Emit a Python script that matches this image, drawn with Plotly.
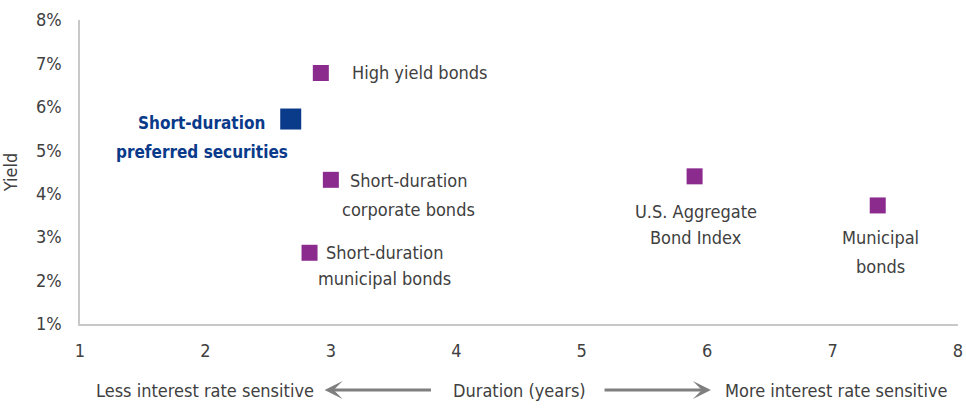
import plotly.graph_objects as go

# ---- data ----
names = ["High yield bonds", "Short-duration<br>preferred securities", "Short-duration<br>corporate bonds",
         "Short-duration<br>municipal bonds", "U.S. Aggregate<br>Bond Index", "Municipal<br>bonds"]
duration = [2.92, 2.68, 3.0, 2.83, 5.9, 7.36]
yield_pct = [6.78, 5.72, 4.32, 2.64, 4.40, 3.73]
highlight = [False, True, False, False, False, False]
y_ticks = [1, 2, 3, 4, 5, 6, 7, 8]
x_ticks = [1, 2, 3, 4, 5, 6, 7, 8]
bottom_text = ["Less interest rate sensitive", "Duration (years)", "More interest rate sensitive"]
bottom_x = [2.0, 4.5, 7.03]
arrows = [(3.81, 2.95), (5.17, 6.03)]

# label placement: (dx px, dy px of first line (down positive), line gap px, anchor)
label_pos = [(29, 0, 0, "left"), (-89, 4, 29, "center"), (78, 0.5, 29, "center"),
             (75, 0, 26, "center"), (1, 35.5, 26, "center"), (3, 32.5, 29, "center")]

FONT = "DejaVu Sans Condensed, DejaVu Sans, sans-serif"
FS = 18
GREY = "#404040"
PURPLE = "#8a2b8d"
NAVY = "#0a3a8a"

fig = go.Figure()
px_ = [d for d, h in zip(duration, highlight) if not h]
py_ = [v for v, h in zip(yield_pct, highlight) if not h]
fig.add_trace(go.Scatter(x=px_, y=py_, mode="markers",
                         marker=dict(symbol="square", size=16, color=PURPLE), hoverinfo="skip"))
hx = [d for d, h in zip(duration, highlight) if h]
hy = [v for v, h in zip(yield_pct, highlight) if h]
fig.add_trace(go.Scatter(x=hx, y=hy, mode="markers",
                         marker=dict(symbol="square", size=21, color=NAVY), hoverinfo="skip"))

for n, d, v, h, (dx, dy, gap, anc) in zip(names, duration, yield_pct, highlight, label_pos):
    for k, line in enumerate(n.split("<br>")):
        fig.add_annotation(x=d, y=v, xref="x", yref="y", text=("<b>%s</b>" % line) if h else line,
                           showarrow=False, xanchor=anc, yanchor="middle", align="center",
                           xshift=dx, yshift=-(dy + k * gap),
                           font=dict(family=FONT, size=17 if h else FS, color=NAVY if h else GREY))

# bottom row
for t, xx in zip(bottom_text, bottom_x):
    fig.add_annotation(x=xx, y=0, xref="x", yref="paper", yshift=-66, text=t, showarrow=False,
                       xanchor="center", yanchor="middle", font=dict(family=FONT, size=FS, color=GREY))
for tail, head in arrows:
    fig.add_annotation(x=head, y=0, xref="x", yref="paper", yshift=-66, ax=tail, ay=0,
                       axref="x", ayref="pixel", text="", showarrow=True,
                       arrowhead=3, arrowsize=1, arrowwidth=3, arrowcolor="#7f7f7f")

fig.update_layout(
    width=966, height=414, margin=dict(l=80, r=8, t=20, b=90),
    paper_bgcolor="white", plot_bgcolor="white", showlegend=False,
    font=dict(family=FONT, size=FS, color=GREY),
)
fig.update_xaxes(range=[1, 8], tickvals=x_ticks, ticktext=[str(t) for t in x_ticks], automargin=False,
                 showgrid=False, zeroline=False, showline=True, linecolor="#c8c8c8", linewidth=1.5,
                 ticks="", ticklabelstandoff=10, tickfont=dict(size=FS, color=GREY))
fig.update_yaxes(range=[1, 8], tickvals=y_ticks, ticktext=["%d%%" % t for t in y_ticks], automargin=False,
                 showgrid=False, zeroline=False, showline=True, linecolor="#c8c8c8", linewidth=1.5,
                 ticks="", ticklabelstandoff=13, tickfont=dict(size=FS, color=GREY),
                 title=dict(text="Yield", standoff=18, font=dict(size=FS, color=GREY)))

fig.write_html("out.html")
